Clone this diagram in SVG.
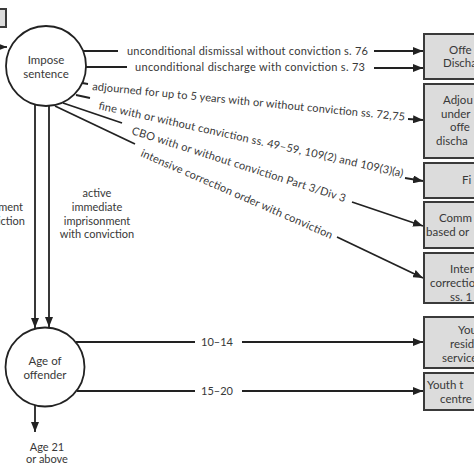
<svg xmlns="http://www.w3.org/2000/svg" width="474" height="474" viewBox="0 0 474 474">
<defs>
<style>
.bg{fill:#ffffff}
.ln{stroke:#222;stroke-width:1.8;fill:none}
.arr{marker-end:url(#ah)}
.circ{fill:#fff;stroke:#222;stroke-width:1.8}
.box{fill:#dcdcdc;stroke:#3a3a3a;stroke-width:2}
text{font-family:Lato,"Open Sans","DejaVu Sans",sans-serif;fill:#383838}
.t12{font-size:11.5px}
.t11{font-size:11px}
.mid{text-anchor:middle}
.end{text-anchor:end}
</style>
<marker id="ah" markerUnits="userSpaceOnUse" markerWidth="10" markerHeight="8" refX="10" refY="4" orient="auto">
<path d="M0,0 L10,4 L0,8 z" fill="#222"/>
</marker>
</defs>
<rect class="bg" x="0" y="0" width="474" height="474"/>

<g id="connectors">
<line class="ln arr" x1="0" y1="47" x2="7" y2="47"/>
<line class="ln" x1="83" y1="51" x2="118" y2="51"/>
<line class="ln arr" x1="374" y1="51" x2="423" y2="51"/>
<line class="ln" x1="86" y1="67" x2="127" y2="67"/>
<line class="ln arr" x1="374" y1="68" x2="423" y2="68"/>
<line class="ln" x1="82" y1="83" x2="88" y2="84"/>
<line class="ln arr" x1="408" y1="119" x2="423" y2="120"/>
<line class="ln" x1="76" y1="95" x2="90" y2="98"/>
<line class="ln arr" x1="405" y1="178" x2="423" y2="181"/>
<line class="ln" x1="63" y1="103" x2="122" y2="123"/>
<line class="ln arr" x1="352" y1="202" x2="423" y2="226"/>
<line class="ln" x1="55" y1="106" x2="135" y2="144"/>
<line class="ln arr" x1="337" y1="237" x2="423" y2="278"/>
<line class="ln arr" x1="35" y1="104" x2="35" y2="328"/>
<line class="ln arr" x1="49" y1="106" x2="49" y2="327"/>
<line class="ln arr" x1="35" y1="405" x2="35" y2="432"/>
<line class="ln" x1="76" y1="342" x2="195" y2="342"/>
<line class="ln arr" x1="242" y1="342" x2="423" y2="342"/>
<line class="ln" x1="77" y1="391" x2="195" y2="391"/>
<line class="ln arr" x1="242" y1="391" x2="423" y2="391"/>
</g>

<g id="labels">
<text class="t11" x="127" y="55" textLength="241">unconditional dismissal without conviction  s. 76</text>
<text class="t11" x="135" y="71" textLength="230">unconditional discharge with conviction  s. 73</text>
<text class="t11" transform="translate(92,90) rotate(5.6)" textLength="314">adjourned for up to 5 years with or without conviction ss. 72,75</text>
<text class="t11" transform="translate(98,109) rotate(12.6)" textLength="312">fine with or without conviction ss. 49–59, 109(2) and 109(3)(a)</text>
<text class="t11" transform="translate(131,134) rotate(17.7)" textLength="224">CBO with or without conviction Part 3/Div  3</text>
<text class="t11" transform="translate(140,156) rotate(23.5)" textLength="208">intensive correction order with conviction</text>
<text class="t11 mid" x="97" y="197">active</text>
<text class="t11 mid" x="97" y="211">immediate</text>
<text class="t11 mid" x="97" y="225">imprisonment</text>
<text class="t11 mid" x="97" y="238">with conviction</text>
<text class="t11 end" x="23" y="211">ment</text>
<text class="t11 end" x="25" y="225">nviction</text>
<text class="t11 mid" x="217" y="346">10–14</text>
<text class="t11 mid" x="217" y="395">15–20</text>
<text class="t11 mid" x="47" y="451">Age 21</text>
<text class="t11 mid" x="47" y="463">or above</text>
</g>

<g id="node-start">
<rect class="box" x="-6" y="9" width="12" height="18"/>
</g>

<g id="node-impose">
<circle class="circ" cx="46" cy="66" r="40"/>
<text class="t12 mid" x="46" y="64">Impose</text>
<text class="t12 mid" x="46" y="78">sentence</text>
</g>

<g id="node-age">
<circle class="circ" cx="45" cy="367" r="39.5"/>
<text class="t12 mid" x="45" y="365">Age of</text>
<text class="t12 mid" x="45" y="379">offender</text>
</g>

<g id="node-discharged">
<rect class="box" x="424" y="34" width="70" height="45"/>
<text class="t12" x="449" y="54">Offe</text>
<text class="t12" x="443" y="67">Discha</text>
</g>

<g id="node-adjourned">
<rect class="box" x="424" y="84" width="70" height="74"/>
<text class="t12" x="443" y="104">Adjou</text>
<text class="t12" x="441" y="117.5">under</text>
<text class="t12" x="450" y="131">offe</text>
<text class="t12" x="436" y="144.5">discha</text>
</g>

<g id="node-fine">
<rect class="box" x="424" y="163" width="70" height="35"/>
<text class="t12" x="462" y="184">Fi</text>
</g>

<g id="node-cbo">
<rect class="box" x="424" y="202" width="70" height="46"/>
<text class="t12" x="439" y="222">Comm</text>
<text class="t12" x="426" y="236">based or</text>
</g>

<g id="node-ico">
<rect class="box" x="424" y="253" width="70" height="50"/>
<text class="t12" x="450" y="273">Inter</text>
<text class="t12" x="430" y="287">correctio</text>
<text class="t12" x="450" y="301">ss. 1</text>
</g>

<g id="node-youth-res">
<rect class="box" x="424" y="317" width="70" height="51"/>
<text class="t12" x="458" y="334">You</text>
<text class="t12" x="450" y="348">resid</text>
<text class="t12" x="442" y="362">service</text>
</g>

<g id="node-youth-train">
<rect class="box" x="424" y="373" width="70" height="37"/>
<text class="t12" x="427" y="389">Youth t</text>
<text class="t12" x="440" y="403">centre</text>
</g>
</svg>
